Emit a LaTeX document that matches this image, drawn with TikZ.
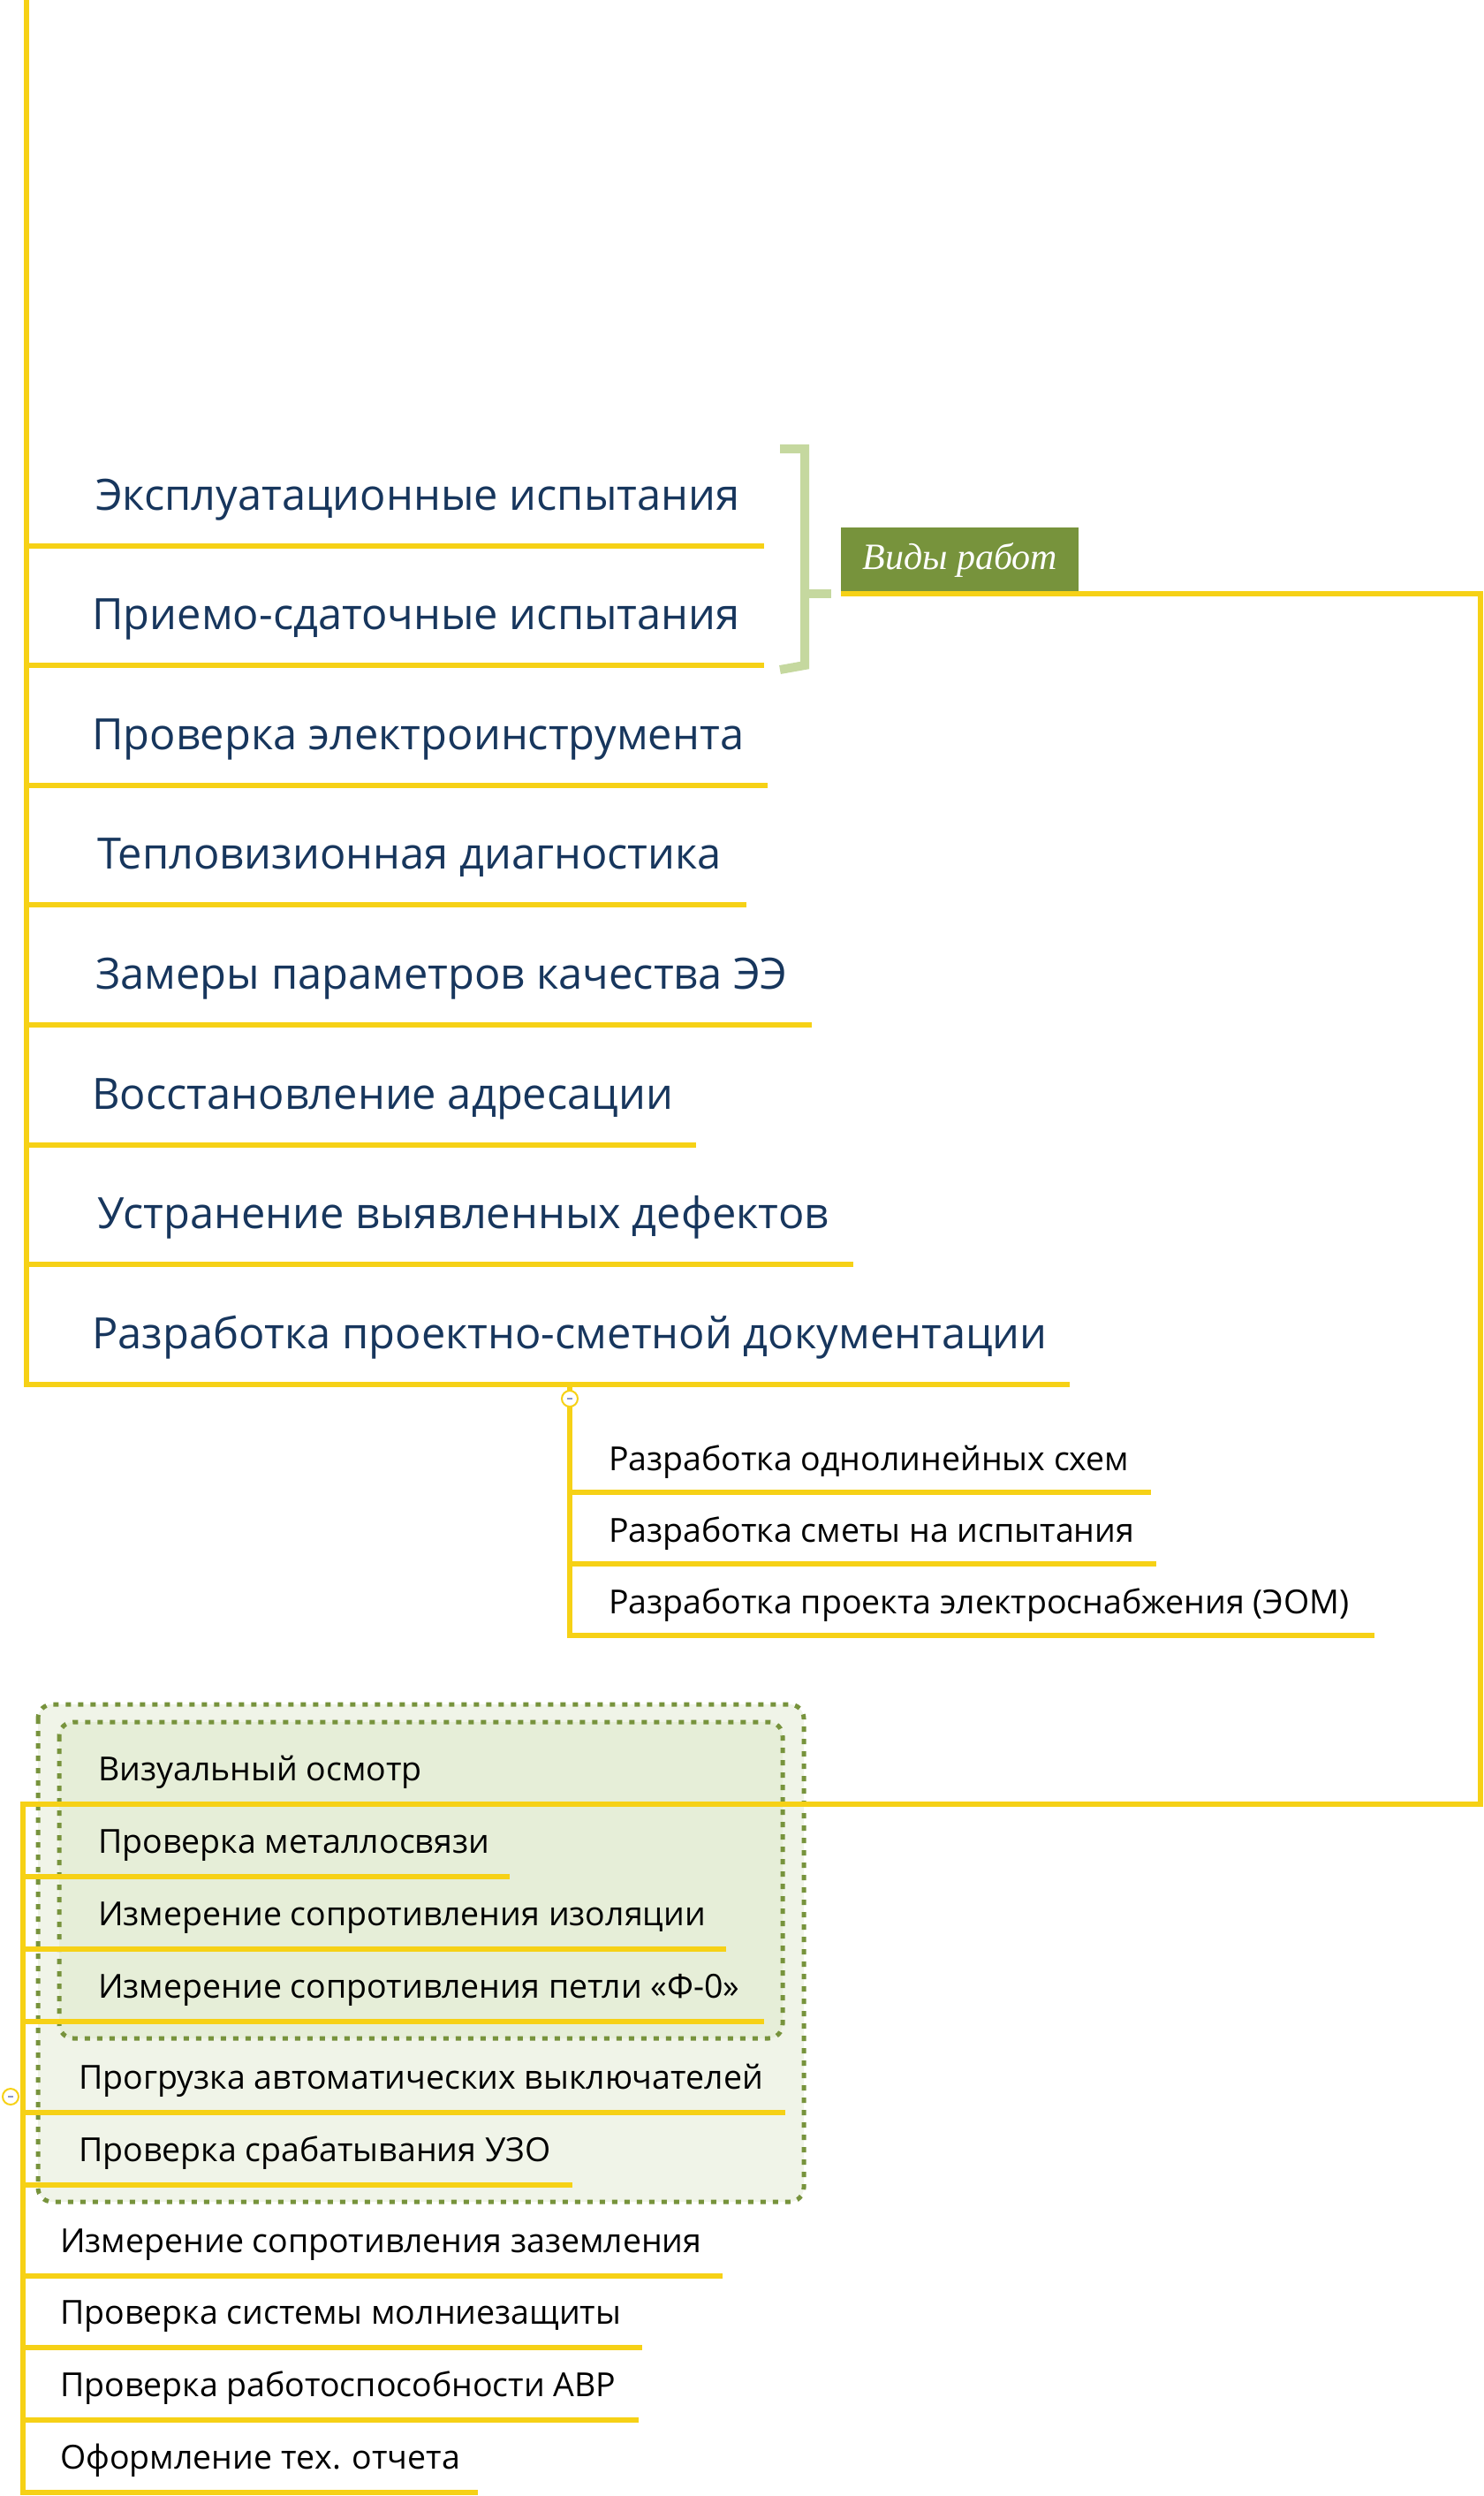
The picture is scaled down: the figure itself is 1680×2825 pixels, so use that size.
\documentclass[tikz,border=0pt]{standalone}
\usepackage{fontspec}
\setmainfont{Open Sans}
\newfontfamily\tagfont{Liberation Serif}
\usetikzlibrary{positioning}
\definecolor{branch}{RGB}{246,209,22}
\definecolor{brace}{RGB}{197,216,159}
\definecolor{olive}{RGB}{119,147,60}
\definecolor{navy}{RGB}{23,54,93}
\definecolor{fillout}{RGB}{240,244,232}
\definecolor{fillin}{RGB}{230,238,216}
\definecolor{foldmark}{RGB}{140,150,200}

\begin{document}
\begin{tikzpicture}[x=1pt,y=-1pt,
  topic/.style={anchor=base west,inner sep=0pt,text=navy,font=\fontsize{48.8}{58}\selectfont},
  sub/.style={anchor=base west,inner sep=0pt,text=black,font=\fontsize{37.5}{45}\selectfont},
  wire/.style={draw=branch,line width=6pt},
  grp/.style={draw=olive,line width=5pt,dash pattern=on 6pt off 8pt,rounded corners=16pt},
  fold/.style={circle,draw=branch,fill=white,line width=2pt,minimum size=18pt,inner sep=0pt},
  tag/.style={fill=olive,text=white,minimum width=269pt,minimum height=75pt,inner sep=0pt,font=\tagfont\itshape\fontsize{42}{50}\selectfont}]
\useasboundingbox (0,0) rectangle (1680,2825);
% check groups (drawn first, behind the branches)
\draw[grp,fill=fillout] (43,1929) rectangle (910,2492);
\draw[grp,fill=fillin] (67,1949) rectangle (886,2307);

% kinds of work
\coordinate (spine) at (30,0);
\node[topic] (ex) at (108,577) {Эксплуатационные испытания};
\node[topic] (pr) at (104,712) {Приемо-сдаточные испытания};
\node[topic] (tool) at (104,848) {Проверка электроинструмента};
\node[topic] (thermo) at (110,983) {Тепловизионная диагностика};
\node[topic] (qual) at (108,1119) {Замеры параметров качества ЭЭ};
\node[topic] (addr) at (104,1255) {Восстановление адресации};
\node[topic] (defect) at (110,1390) {Устранение выявленных дефектов};
\node[topic] (docs) at (104,1526) {Разработка проектно-сметной документации};
\coordinate (ex-u) at (865,618); \coordinate (pr-u) at (865,753);
\coordinate (tool-u) at (869,889); \coordinate (thermo-u) at (845,1024);
\coordinate (qual-u) at (919,1160); \coordinate (addr-u) at (788,1296);
\coordinate (defect-u) at (966,1431); \coordinate (docs-u) at (1211,1567);
\draw[wire] (spine) |- (docs-u);
\draw[wire] (spine |- ex-u) -- (ex-u); \draw[wire] (spine |- pr-u) -- (pr-u);
\draw[wire] (spine |- tool-u) -- (tool-u); \draw[wire] (spine |- thermo-u) -- (thermo-u);
\draw[wire] (spine |- qual-u) -- (qual-u); \draw[wire] (spine |- addr-u) -- (addr-u);
\draw[wire] (spine |- defect-u) -- (defect-u);

% bracket and its label
\coordinate (br) at (911,672);
\draw[brace,line width=10pt] (883,508) -| (br |- pr-u) -- (883,758);
\draw[brace,line width=10pt] (br) -- (941,672);
\node[tag,anchor=south west] (kinds) at (952,672) {Виды работ};

% project documents
\coordinate (dspine) at (645,1567);
\node[sub] (one) at (689,1664) {Разработка однолинейных схем};
\node[sub] (est) at (689,1745) {Разработка сметы на испытания};
\node[sub] (eom) at (689,1826) {Разработка проекта электроснабжения (ЭОМ)};
\coordinate (one-u) at (1303,1689); \coordinate (est-u) at (1309,1770); \coordinate (eom-u) at (1556,1851);
\draw[wire] (dspine) |- (eom-u);
\draw[wire] (dspine |- one-u) -- (one-u); \draw[wire] (dspine |- est-u) -- (est-u);
\node[fold] (fold1) at (645,1583) {};
\draw[foldmark,line width=2pt] ([xshift=-3pt]fold1.center) -- ([xshift=3pt]fold1.center);

% checks
\coordinate (corner) at (1676,2042);
\coordinate (cspine) at (26,2042);
\node[sub] (look) at (111,2015) {Визуальный осмотр};
\node[sub] (bond) at (111,2097) {Проверка металлосвязи};
\node[sub] (insul) at (111,2179) {Измерение сопротивления изоляции};
\node[sub] (loop) at (111,2261) {Измерение сопротивления петли «Ф-0»};
\node[sub] (brk) at (89,2364) {Прогрузка автоматических выключателей};
\node[sub] (rcd) at (89,2446) {Проверка срабатывания УЗО};
\node[sub] (earth) at (68,2549) {Измерение сопротивления заземления};
\node[sub] (light) at (68,2630) {Проверка системы молниезащиты};
\node[sub] (ats) at (68,2712) {Проверка работоспособности АВР};
\node[sub] (rep) at (68,2794) {Оформление тех. отчета};
\coordinate (bond-u) at (577,2124); \coordinate (insul-u) at (822,2206);
\coordinate (loop-u) at (865,2288); \coordinate (brk-u) at (889,2391);
\coordinate (rcd-u) at (648,2473); \coordinate (earth-u) at (818,2576);
\coordinate (light-u) at (727,2657); \coordinate (ats-u) at (723,2739);
\coordinate (rep-u) at (541,2821);
\draw[wire] (kinds.south west) -| (corner) -- (cspine) |- (rep-u);
\draw[wire] (cspine |- bond-u) -- (bond-u); \draw[wire] (cspine |- insul-u) -- (insul-u);
\draw[wire] (cspine |- loop-u) -- (loop-u); \draw[wire] (cspine |- brk-u) -- (brk-u);
\draw[wire] (cspine |- rcd-u) -- (rcd-u); \draw[wire] (cspine |- earth-u) -- (earth-u);
\draw[wire] (cspine |- light-u) -- (light-u); \draw[wire] (cspine |- ats-u) -- (ats-u);
\node[fold] (fold2) at (12,2373) {};
\draw[foldmark,line width=2pt] ([xshift=-3pt]fold2.center) -- ([xshift=3pt]fold2.center);
\end{tikzpicture}
\end{document}
